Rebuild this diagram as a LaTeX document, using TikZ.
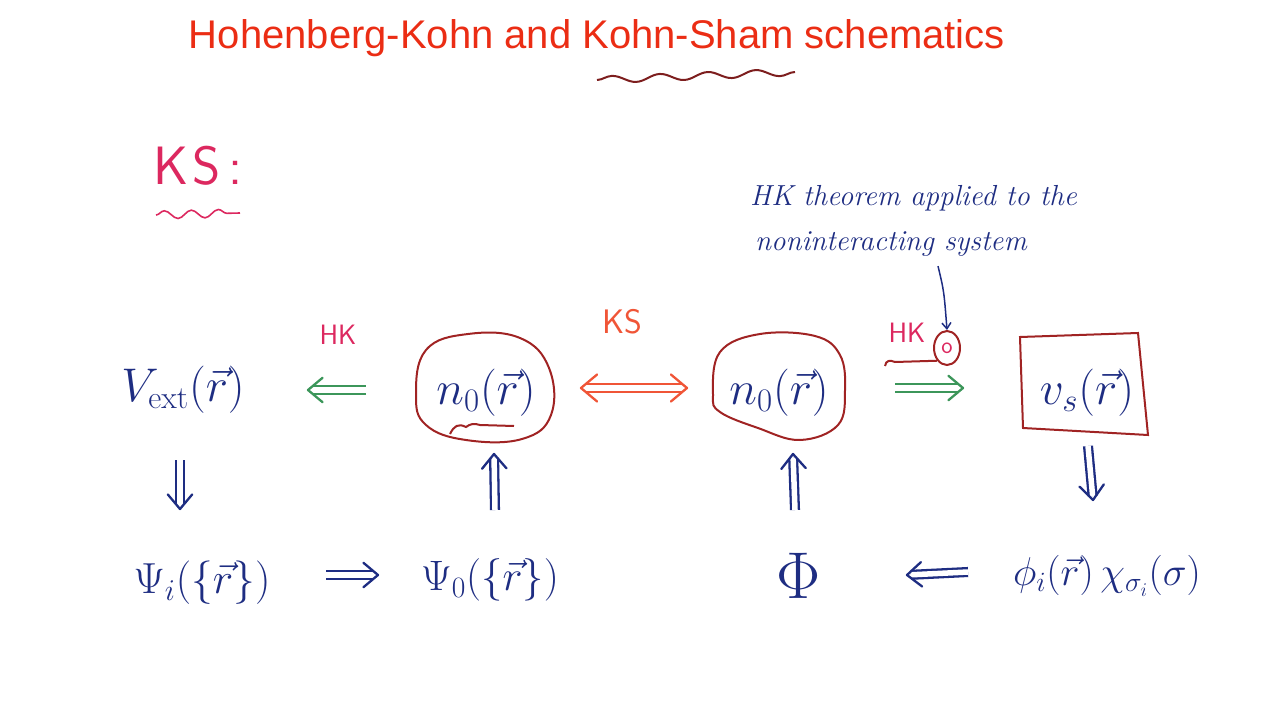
\documentclass[tikz,border=0pt]{standalone}
\usepackage{fontspec}
\newfontfamily\titlefont{Liberation Sans}
\usetikzlibrary{arrows.meta,decorations.pathmorphing,shapes.geometric,calc}
\definecolor{navy}{RGB}{30,45,130}
\definecolor{brn}{RGB}{160,35,35}
\definecolor{dbrn}{RGB}{125,30,30}
\definecolor{grn}{RGB}{60,150,90}
\definecolor{org}{RGB}{240,85,55}
\definecolor{pnk}{RGB}{220,40,95}
\definecolor{ttl}{RGB}{235,45,20}
\newcommand\darrow[3]{%
  \draw[#1, dblline, shorten >=4pt] (#2) -- (#3);
  \draw[#1, chev] ($(#3)!19pt!40:(#2)$) -- (#3) -- ($(#3)!19pt!-40:(#2)$);}
\newcommand\ddarrow[3]{%
  \draw[#1, dblline, shorten >=4pt, shorten <=4pt] (#2) -- (#3);
  \draw[#1, chev] ($(#3)!21pt!40:(#2)$) -- (#3) -- ($(#3)!21pt!-40:(#2)$);
  \draw[#1, chev] ($(#2)!21pt!40:(#3)$) -- (#2) -- ($(#2)!21pt!-40:(#3)$);}
\begin{document}
\begin{tikzpicture}[x=1pt,y=-1pt,
  lbl/.style={text=navy, font=\fontsize{24}{28}\selectfont, inner sep=0pt, scale=1.9, transform shape},
  tag/.style={font=\sffamily\fontsize{28}{32}\selectfont, inner sep=0pt},
  note/.style={text=navy, font=\itshape\fontsize{29}{33}\selectfont, inner sep=0pt, anchor=base west},
  dblline/.style={line width=2.3pt, double distance=5.5pt},
  chev/.style={line width=2.3pt, line cap=round, line join=round},
  outline/.style={draw=brn, line width=2pt},
  wave/.style={line width=2pt, decorate}
]
\useasboundingbox (0,0) rectangle (1280,720);

% title
\node[font=\titlefont\fontsize{40}{44}\selectfont, text=ttl, inner sep=0pt] (title) at (597,38) {Hohenberg-Kohn and Kohn-Sham schematics};
\draw[dbrn, wave, decoration={snake, segment length=48, amplitude=3.5}] (597,80) -- (795,72);

% KS heading
\node[text=pnk, font=\sffamily\fontsize{54}{60}\selectfont, inner sep=0pt] (ks) at (198,166) {K\hspace{4pt}S\hspace{8pt}:};
\draw[pnk, wave, line width=1.6pt, decoration={snake, segment length=27, amplitude=4}] (156,215) -- (240,213);

% annotation
\node[note] (note1) at (750,205) {HK theorem applied to the};
\node[note] (note2) at (755,250) {noninteracting system};

% main nodes
\node[lbl] (vext) at (183,390) {$V_{\mathrm{ext}}(\vec r)$};
\node[lbl] (n1) at (486,393) {$n_0(\vec r)$};
\node[lbl] (n2) at (779,393) {$n_0(\vec r)$};
\node[lbl] (vs) at (1087,393) {$v_s(\vec r)$};
\node[lbl, scale=0.92] (psii) at (202,583) {$\Psi_i(\{\vec r\})$};
\node[lbl, scale=0.9] (psi0) at (490,580) {$\Psi_0(\{\vec r\})$};
\node[lbl, scale=1.4] (Phi) at (799,576) {$\Phi$};
\node[lbl, scale=0.85] (phichi) at (1107,576) {$\phi_{i}(\vec r)\,\chi_{\sigma_i}(\sigma)$};

% outlines
\draw[outline] plot[smooth cycle, tension=0.7] coordinates {(416,395) (426,350) (468,334) (520,338) (549,368) (551,415) (522,439) (466,440) (426,425)};
\draw[brn, line width=2pt] (450,434) .. controls (454,426) and (458,423) .. (466,427) .. controls (470,424) and (474,423) .. (480,425) -- (514,426);
\draw[outline] plot[smooth cycle, tension=0.65] coordinates {(713,395) (720,352) (760,334) (815,336) (840,355) (845,390) (838,425) (800,440) (758,428) (720,412)};
\draw[outline] (1020,337) -- (1138,333) -- (1148,435) -- (1023,428) -- cycle;

% arrow labels
\node[tag, text=pnk] (hk1) at (338,335) {HK};
\node[tag, text=org, font=\sffamily\fontsize{34}{38}\selectfont] (ks2) at (622,322) {KS};
\node[tag, text=pnk] (hk2) at (907,333) {HK};
\node[draw=brn, line width=2pt, ellipse, minimum width=26pt, minimum height=34pt, inner sep=0pt, text=pnk, font=\sffamily\fontsize{24}{26}\selectfont] (ho) at (947,348) {o};
\draw[brn, line width=2pt] (885,366) .. controls (886,360) and (890,360) .. (895,362) -- (ho.south west);
\draw[navy, line width=1.5pt, -{Straight Barb[length=6pt,width=9pt]}] ([xshift=-9pt,yshift=-10pt]note2.south -| ho.north) .. controls +(6,25) .. (ho.north);

% connector end points
\coordinate (g1a) at ($(n1.center)+(-120,-3)$);
\coordinate (g1b) at ($(n1.center -| vext.center)+(125,-3)$);
\coordinate (o1a) at ($(n1.center)+(95,-5)$);
\coordinate (o1b) at ($(n1.center -| n2.center)+(-92,-5)$);
\coordinate (g2a) at ($(n2.center)+(116,-5)$);
\coordinate (g2b) at ($(n2.center -| vs.center)+(-124,-5)$);
\coordinate (d1a) at ($(vext.center)+(-3,70)$);
\coordinate (d1b) at ($(psii.center -| vext.center)+(-3,-74)$);
\coordinate (r1a) at ($(psii.center)+(124,-8)$);
\coordinate (r1b) at ($(psii.center -| psi0.center)+(-112,-8)$);
\coordinate (u1a) at ($(psi0.center)+(5,-70)$);
\coordinate (u1b) at ($(n1.center -| psi0.center)+(4,61)$);
\coordinate (u2a) at ($(Phi.center)+(-4,-66)$);
\coordinate (u2b) at ($(n2.center -| Phi.center)+(-6,61)$);
\coordinate (l1a) at ($(phichi.center)+(-139,-4)$);
\coordinate (l1b) at ($(Phi.center)+(108,-1)$);
\coordinate (d2a) at ($(vs.center)+(1,53)$);
\coordinate (d2b) at ($(phichi.center -| vs.center)+(6,-76)$);

% connectors
\darrow{grn}{g1a}{g1b}
\ddarrow{org}{o1a}{o1b}
\darrow{grn}{g2a}{g2b}
\darrow{navy}{d1a}{d1b}
\darrow{navy}{r1a}{r1b}
\darrow{navy}{u1a}{u1b}
\darrow{navy}{u2a}{u2b}
\darrow{navy}{l1a}{l1b}
\darrow{navy}{d2a}{d2b}
\end{tikzpicture}
\end{document}
